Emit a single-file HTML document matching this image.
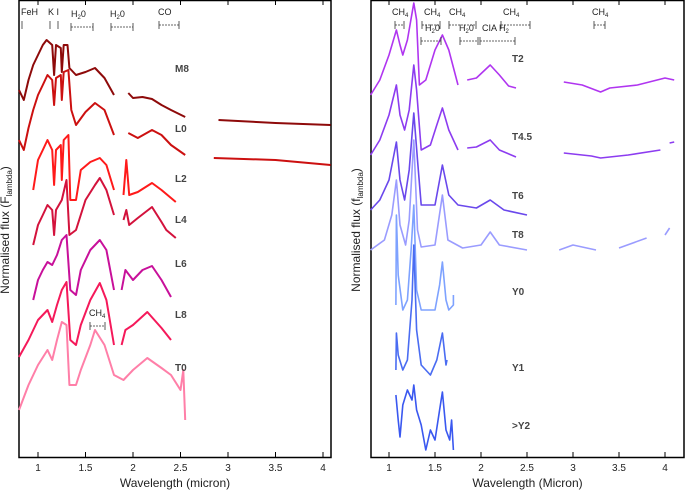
<!DOCTYPE html>
<html><head><meta charset="utf-8"><style>
html,body{margin:0;padding:0;background:#fff;}
svg{display:block;font-family:"Liberation Sans",sans-serif;}
</style></head><body>
<svg id="chart" width="685" height="490" viewBox="0 0 685 490">
<g id="left"></g>
<g id="right"></g>
</svg>
<script>
const NS="http://www.w3.org/2000/svg";
const xTicks=[1,1.5,2,2.5,3,3.5,4];
const xTickLabels=["1","1.5","2","2.5","3","3.5","4"];

const wlM8=[0.8,0.85,0.9,0.95,1.0,1.05,1.09,1.15,1.17,1.19,1.24,1.25,1.27,1.31,1.33,1.4,1.5,1.6,1.7,1.8,null,1.95,2.0,2.1,2.2,2.3,2.4,2.55,null,2.9,3.5,4.08];
const fxM8=[3.67,3.57,3.77,3.92,4.02,4.12,4.17,4.12,3.82,4.12,4.09,3.85,4.12,4.12,3.89,3.82,3.85,3.89,3.79,3.62,null,3.64,3.59,3.60,3.58,3.52,3.47,3.40,null,3.37,3.34,3.32];
const wlL0=[0.8,0.85,0.9,0.95,1.0,1.05,1.1,1.15,1.17,1.19,1.24,1.25,1.27,1.32,1.35,1.4,1.5,1.6,1.7,1.8,null,1.95,2.05,2.2,2.3,2.4,2.55,null,2.85,3.5,4.08];
const fxL0=[3.17,3.07,3.29,3.47,3.62,3.72,3.82,3.77,3.52,3.79,3.82,3.57,3.85,3.87,3.47,3.32,3.45,3.54,3.47,3.22,null,3.24,3.19,3.27,3.22,3.12,3.02,null,2.99,2.97,2.92];
const wlL2=[0.95,1.0,1.05,1.1,1.15,1.17,1.19,1.24,1.25,1.27,1.32,1.34,1.4,1.45,1.55,1.65,1.72,1.8,null,1.9,1.93,1.96,2.05,2.2,2.3,2.45];
const fxL2=[2.67,2.97,3.07,3.17,3.07,2.72,3.07,3.12,2.77,3.17,3.22,2.57,2.57,2.87,2.95,2.99,2.92,2.67,null,2.62,2.97,2.62,2.65,2.74,2.67,2.55];
const wlL4=[0.95,1.0,1.05,1.1,1.15,1.17,1.19,1.25,1.3,1.33,1.4,1.5,1.6,1.65,1.72,1.8,null,1.9,1.93,1.96,2.05,2.2,2.3,2.35,2.45];
const fxL4=[2.12,2.32,2.42,2.52,2.47,2.22,2.47,2.57,2.77,2.22,2.27,2.57,2.72,2.79,2.67,2.42,null,2.37,2.47,2.32,2.39,2.50,2.35,2.27,2.19];
const wlL6=[0.95,1.0,1.05,1.1,1.15,1.2,1.25,1.3,1.34,1.4,1.45,1.55,1.65,1.72,1.8,null,1.88,1.92,2.0,2.1,2.2,2.3,2.4];
const fxL6=[1.57,1.77,1.87,1.95,1.92,2.02,2.17,2.22,1.67,1.62,1.87,2.07,2.17,2.07,1.67,null,1.67,1.87,1.77,1.87,1.91,1.77,1.60];
const wlL8=[0.8,0.9,1.0,1.1,1.15,1.2,1.25,1.3,1.34,1.4,1.45,1.55,1.65,1.72,1.8,null,1.88,1.92,2.0,2.15,2.3,2.4];
const fxL8=[1.00,1.17,1.37,1.47,1.35,1.52,1.67,1.75,1.17,1.12,1.32,1.57,1.74,1.57,1.12,null,1.12,1.27,1.32,1.45,1.29,1.17];
const wlT0=[0.8,0.9,1.0,1.1,1.15,1.2,1.25,1.3,1.33,1.4,1.45,1.55,1.6,1.7,1.8,1.9,2.0,2.15,2.3,2.4,2.5,2.53,2.55];
const fxT0=[0.47,0.72,0.92,1.07,0.97,1.17,1.35,1.32,0.72,0.72,0.87,1.12,1.27,1.12,0.82,0.77,0.87,0.99,0.89,0.82,0.67,0.87,0.37];

const wlT2=[0.8,0.9,1.0,1.08,1.12,1.15,1.2,1.27,1.3,1.33,1.4,1.5,1.58,1.65,1.75,null,1.85,1.95,2.1,2.2,2.3,2.38,null,2.9,3.1,3.3,3.4,3.7,4.0,4.1];
const fxT2=[3.62,3.77,4.02,4.27,4.12,4.02,4.17,4.54,4.37,3.72,3.77,4.07,4.22,4.07,3.72,null,3.77,3.79,3.92,3.82,3.71,3.69,null,3.75,3.72,3.65,3.69,3.72,3.79,3.77];
const wlT45=[0.8,0.9,1.0,1.08,1.12,1.17,1.22,1.27,1.3,1.35,1.45,1.52,1.58,1.65,1.75,null,1.85,1.95,2.1,2.2,2.38,null,2.9,3.2,3.3,3.6,3.95,null,4.05,4.1];
const fxT45=[3.02,3.17,3.42,3.72,3.42,3.27,3.47,3.92,3.67,3.07,3.12,3.32,3.49,3.27,3.07,null,3.09,3.10,3.17,3.07,3.00,null,3.04,3.01,2.99,3.02,3.07,null,3.14,3.15];
const wlT6=[0.8,0.9,1.0,1.08,1.12,1.17,1.22,1.27,1.31,1.35,1.5,1.58,1.65,1.75,1.95,2.1,2.25,2.5];
const fxT6=[2.47,2.57,2.77,3.15,2.77,2.57,2.87,3.44,2.97,2.52,2.52,2.92,2.62,2.52,2.49,2.57,2.47,2.42];
const wlT8=[0.8,0.95,1.03,1.08,1.12,1.18,1.22,1.27,1.31,1.35,1.5,1.58,1.64,1.8,2.0,2.1,2.2,2.5,null,2.85,3.0,3.25,null,3.5,3.8,null,4.0,4.05];
const fxT8=[2.07,2.17,2.42,2.77,2.32,2.12,2.37,3.17,2.27,2.10,2.12,2.62,2.17,2.09,2.12,2.25,2.12,2.07,null,2.07,2.12,2.07,null,2.09,2.19,null,2.22,2.29];
const wlY0=[1.075,1.08,1.1,1.15,1.2,1.24,1.27,1.3,1.35,1.5,1.55,1.58,1.62,1.65,1.7,1.7];
const fxY0=[1.52,2.42,1.82,1.47,1.57,2.07,2.52,1.67,1.47,1.47,1.72,1.95,1.57,1.47,1.52,1.62];
const wlY1=[1.075,1.08,1.1,1.15,1.2,1.25,1.27,1.3,1.35,1.45,1.52,1.58,1.62,1.63];
const fxY1=[0.87,1.24,1.02,0.87,0.97,1.57,2.12,1.27,0.92,0.82,0.97,1.24,0.92,0.97];
const wlY2=[1.075,1.1,1.12,1.15,1.2,1.25,1.27,1.3,1.35,1.4,1.45,1.5,1.55,1.58,1.62,1.66,1.68,1.7];
const fxY2=[0.62,0.37,0.20,0.52,0.67,0.57,0.72,0.47,0.32,0.07,0.27,0.17,0.47,0.65,0.27,0.17,0.37,0.07];

const leftSeries=[["M8",wlM8,fxM8,"#8e0a0a",68],["L0",wlL0,fxL0,"#cc1010",128],["L2",wlL2,fxL2,"#ff1a1a",178],["L4",wlL4,fxL4,"#d3123c",219],["L6",wlL6,fxL6,"#c8109a",263],["L8",wlL8,fxL8,"#f5195a",314],["T0",wlT0,fxT0,"#ff7fa8",367]];
const rightSeries=[["T2",wlT2,fxT2,"#b035f0",58],["T4.5",wlT45,fxT45,"#8c3cf0",136],["T6",wlT6,fxT6,"#6a48ec",195],["T8",wlT8,fxT8,"#9a9cff",234],["Y0",wlY0,fxY0,"#7ea2ff",291],["Y1",wlY1,fxY1,"#4a6cf2",367],[">Y2",wlY2,fxY2,"#3a58f0",425]];

function mk(tag,attrs,parent){const e=document.createElementNS(NS,tag);for(const k in attrs)e.setAttribute(k,attrs[k]);parent.appendChild(e);return e;}
const yScale=v=>457-v*100;

function panel(g,x0,x1,x1um,pxPerUm,series,title,ylab,ylabX,sub,annots,sw){
  const xs=w=>x1um+(w-1)*pxPerUm;
  const fr=mk("rect",{x:x0,y:0.5,width:x1-x0,height:457,fill:"none",stroke:"#000","stroke-width":1.5},g);
  
  
  xTicks.forEach((t,i)=>{
    const x=xs(t);
    const tb=mk("line",{x1:x,x2:x,y1:457,y2:452,stroke:"#000"},g);
    
    
    const tt=mk("line",{x1:x,x2:x,y1:0,y2:5,stroke:"#000"},g);
    
    
    const tl=mk("text",{x:x,y:471,"font-size":10,"text-anchor":"middle",fill:"#222"},g);
    tl.textContent=xTickLabels[i];
    
    
  });
  const at=mk("text",{x:(x0+x1)/2,y:487,"font-size":12,"text-anchor":"middle",fill:"#222"},g);
  at.textContent=title;
  
  
  const yt=mk("text",{x:0,y:0,"font-size":12,"text-anchor":"middle",fill:"#222",transform:`translate(${ylabX},230) rotate(-90)`},g);
  yt.textContent=ylab+" (";
  const f=mk("tspan",{},yt);f.textContent=sub[0];
  const s=mk("tspan",{"font-size":8,dy:3},yt);s.textContent=sub[1];
  const c=mk("tspan",{dy:-3},yt);c.textContent=")";
  
  
  series.forEach(([name,wl,fx,col,ly])=>{
    let d="",pen=false;
    for(let i=0;i<wl.length;i++){
      if(wl[i]===null||fx[i]===null){pen=false;continue;}
      d+=(pen?"L":"M")+xs(wl[i]).toFixed(1)+","+yScale(fx[i]).toFixed(1);pen=true;
    }
    const p=mk("path",{d:d,fill:"none",stroke:col,"stroke-width":sw,"stroke-linejoin":"round"},g);
    
    
    const lb=mk("text",{x:x1um+(x0<100?137:123),y:ly+4,"font-size":10,"font-weight":"bold",fill:"#444"},g);
    lb.textContent=name;
    
    
  });
  annots.forEach(([txt,subs,x,y,bx1,bx2])=>{
    const t=mk("text",{x:x,y:y,"font-size":9,fill:"#222"},g);
    t.textContent=txt;
    if(subs){const ss=mk("tspan",{"font-size":6,dy:2},t);ss.textContent=subs[0];if(subs[1]){const s2=mk("tspan",{"font-size":9,dy:-2},t);s2.textContent=subs[1];}}
    
    
    if(bx1!==null){
      const by=y+10;
      const b=mk("path",{d:`M${bx1},${by-4}V${by+4}`+(bx2>bx1?`M${bx2},${by-4}V${by+4}`:""),fill:"none",stroke:"#333","stroke-width":0.8},g);
      
      
      if(bx2>bx1){const dl=mk("line",{x1:bx1,x2:bx2,y1:by,y2:by,stroke:"#333","stroke-width":0.8,"stroke-dasharray":"2,1"},g);}
    }
  });
}
panel(document.getElementById("left"),19,331,38,95,leftSeries,"Wavelength (micron)","Normalised flux","9",["F","lambda"],[
 ["FeH",null,21,15,22,22],["K I",null,48,15,50,50],["",null,58,15,58,58],["H",["2","0"],71,17,71,93],["H",["2","0"],110,17,111,133],["CO",null,158,15,159,179],["CH",["4"],89,316,90,105]
],2);
panel(document.getElementById("right"),371,684,389,92,rightSeries,"Wavelength (Micron)","Normalised flux","360",["f","lambda"],[
 ["CH",["4"],392,15,395,404],["CH",["4"],424,15,422,440],["CH",["4"],449,15,449,476],["CH",["4"],503,15,501,530],["CH",["4"],592,15,594,605],
 ["H",["2","0"],425,31,421,441],["H",["2","0"],459,31,460,478],["CIA H",["2"],482,31,480,515]
],1.6);
</script>
</body></html>
